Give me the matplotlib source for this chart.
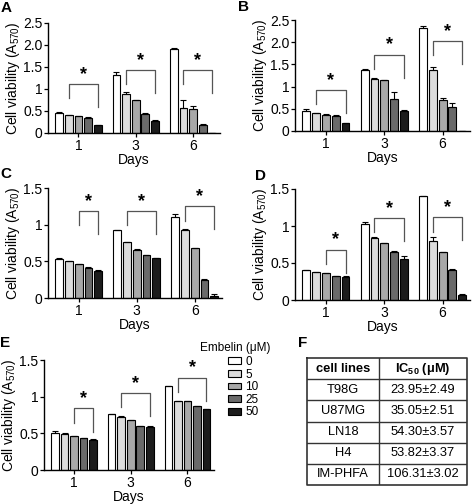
import numpy as np
import matplotlib.pyplot as plt
from matplotlib.patches import Patch

plt.rcParams['font.family'] = ['Liberation Sans', 'DejaVu Sans']
plt.rcParams['mathtext.fontset'] = 'custom'
plt.rcParams['mathtext.rm'] = 'Liberation Sans'
plt.rcParams['mathtext.bf'] = 'Liberation Sans:bold'
plt.rcParams['mathtext.default'] = 'regular'

days = ["1", "3", "6"]
doses = ["0", "5", "10", "25", "50"]
bar_colors = ["#ffffff", "#dcdcdc", "#a8a8a8", "#6a6a6a", "#1c1c1c"]

# rows = day 1, 3, 6 ; cols = embelin dose
a_vals = [[0.46, 0.41, 0.38, 0.35, 0.18],
          [1.31, 0.89, 0.74, 0.44, 0.28],
          [1.91, 0.56, 0.54, 0.18, 0.01]]
a_err = [[0.01, 0.01, 0.01, 0.01, 0.01],
         [0.08, 0.04, 0.02, 0.01, 0.01],
         [0.03, 0.18, 0.08, 0.02, 0.0]]

b_vals = [[0.45, 0.40, 0.37, 0.34, 0.18],
          [1.37, 1.17, 1.14, 0.72, 0.45],
          [2.32, 1.38, 0.69, 0.54, 0.01]]
b_err = [[0.04, 0.01, 0.01, 0.01, 0.01],
         [0.02, 0.02, 0.01, 0.15, 0.02],
         [0.05, 0.06, 0.05, 0.08, 0.0]]

c_vals = [[0.53, 0.50, 0.46, 0.41, 0.37],
          [0.93, 0.76, 0.66, 0.58, 0.54],
          [1.11, 0.93, 0.68, 0.24, 0.03]]
c_err = [[0.01, 0.01, 0.01, 0.01, 0.01],
         [0.0, 0.01, 0.01, 0.0, 0.01],
         [0.03, 0.01, 0.0, 0.02, 0.02]]

d_vals = [[0.40, 0.38, 0.36, 0.33, 0.31],
          [1.03, 0.84, 0.77, 0.65, 0.56],
          [1.40, 0.80, 0.65, 0.40, 0.07]]
d_err = [[0.0, 0.0, 0.01, 0.0, 0.01],
         [0.03, 0.01, 0.0, 0.01, 0.03],
         [0.0, 0.05, 0.0, 0.02, 0.01]]

e_vals = [[0.51, 0.49, 0.47, 0.43, 0.41],
          [0.77, 0.72, 0.68, 0.60, 0.59],
          [1.14, 0.94, 0.94, 0.87, 0.83]]
e_err = [[0.02, 0.01, 0.0, 0.01, 0.01],
         [0.0, 0.01, 0.0, 0.0, 0.01],
         [0.01, 0.0, 0.0, 0.0, 0.0]]

# significance brackets: (height, first bar index) per day
a_brackets = [(1.12, 1), (1.43, 1), (1.43, 1)]
b_brackets = [(0.93, 1), (1.72, 1), (2.03, 1)]
c_brackets = [(1.19, 2), (1.19, 1), (1.25, 1)]
d_brackets = [(0.68, 2), (1.11, 1), (1.12, 1)]
e_brackets = [(0.84, 2), (1.05, 1), (1.26, 1)]

cell_lines = ["T98G", "U87MG", "LN18", "H4", "IM-PHFA"]
ic50 = ["23.95", "35.05", "54.30", "53.82", "106.31"]
ic50_sd = ["2.49", "2.51", "3.57", "3.37", "3.02"]

W, H = 474, 504
fig = plt.figure(figsize=(W / 100, H / 100), dpi=100)


def px_axes(x0, x1, ytop, ybot):
    return fig.add_axes([x0 / W, 1 - ybot / H, (x1 - x0) / W, (ybot - ytop) / H])


def px_text(x, y, s, **kw):
    fig.text(x / W, 1 - y / H, s, **kw)


def bar_panel(ax, vals, errs, brackets, ymax):
    vals = np.array(vals)
    errs = np.array(errs)
    step, width = 0.168, 0.135
    offs = (np.arange(5) - 2) * step
    for j in range(5):
        x = np.arange(3) + offs[j]
        ax.bar(x, vals[:, j], width, color=bar_colors[j], edgecolor='black',
               linewidth=0.8, zorder=2)
        ax.errorbar(x, vals[:, j], yerr=[np.zeros(3), errs[:, j]], fmt='none',
                    ecolor='black', elinewidth=0.8, capsize=2.2, capthick=0.8,
                    zorder=3)
    for i, (h, first) in enumerate(brackets):
        xl = i + offs[first]
        xr = i + offs[4]
        ax.plot([xl, xl, xr, xr], [h - 0.13 * ymax, h, h, h - 0.21 * ymax],
                color='#555555', lw=0.9, zorder=1)
        ax.text((xl + xr) / 2, h + 0.01 * ymax, "*", ha='center', va='bottom',
                fontsize=13, fontweight='bold')
    ax.set_xlim(-0.53, 2.47)
    ax.set_ylim(0, ymax)
    if ymax > 2:
        ticks = [0, 0.5, 1, 1.5, 2.0, 2.5]
        labels = ["0", "0.5", "1", "1.5", "2.0", "2.5"]
    else:
        ticks = [0, 0.5, 1, 1.5]
        labels = ["0", "0.5", "1", "1.5"]
    ax.set_yticks(ticks)
    ax.set_yticklabels(labels)
    ax.set_xticks(range(3))
    ax.set_xticklabels(days)
    ax.tick_params(labelsize=10, length=3, width=0.9, pad=1)
    for s in ['top', 'right']:
        ax.spines[s].set_visible(False)
    for s in ['left', 'bottom']:
        ax.spines[s].set_linewidth(1.0)
    ax.set_xlabel("Days", fontsize=10, labelpad=0)
    ax.set_ylabel("Cell viability (A$_{570}$)", fontsize=10, labelpad=1)


ax_a = px_axes(48, 220, 23, 133)
bar_panel(ax_a, a_vals, a_err, a_brackets, 2.5)
ax_b = px_axes(295, 470, 20, 131)
bar_panel(ax_b, b_vals, b_err, b_brackets, 2.5)
ax_c = px_axes(48, 222, 188, 298)
bar_panel(ax_c, c_vals, c_err, c_brackets, 1.5)
ax_d = px_axes(295, 470, 189, 300)
bar_panel(ax_d, d_vals, d_err, d_brackets, 1.5)
ax_e = px_axes(44, 214, 360, 470)
bar_panel(ax_e, e_vals, e_err, e_brackets, 1.5)

letter_kw = dict(fontsize=11, fontweight='bold', va='top', ha='left')
px_text(1, 1, "A", **letter_kw)
px_text(238, 0, "B", **letter_kw)
px_text(0, 167, "C", **letter_kw)
px_text(255, 169, "D", **letter_kw)
px_text(0, 336, "E", **letter_kw)
px_text(298, 336, "F", **letter_kw)

# legend
px_text(200, 348, "Embelin (μM)", fontsize=8.5, va='center')
handles = [Patch(facecolor=c, edgecolor='black', linewidth=0.8) for c in bar_colors]
fig.legend(handles, doses, loc='upper left', bbox_to_anchor=(228 / W, 1 - 356 / H),
           frameon=False, fontsize=8.5, handlelength=1.1, handleheight=0.5,
           labelspacing=0.05, handletextpad=0.35, borderpad=0, borderaxespad=0)

# table F
ax_f = px_axes(307, 467, 358, 485)
ax_f.set_xlim(0, 1)
ax_f.set_ylim(6, 0)
ax_f.axis('off')
split = 0.45
ax_f.plot([0, 1, 1, 0, 0], [0, 0, 6, 6, 0], color='#333333', lw=1.2, clip_on=False)
ax_f.plot([split, split], [0, 6], color='#333333', lw=1.0)
for r in range(1, 6):
    ax_f.plot([0, 1], [r, r], color='#333333', lw=1.0)
ax_f.text(split / 2, 0.5, "cell lines", ha='center', va='center', fontsize=9.3,
          fontweight='bold')
ax_f.text((1 + split) / 2, 0.5, r"$\mathbf{IC_{50}}$ (μM)", ha='center', va='center',
          fontsize=9.3, fontweight='bold')
for r, (name, m, sd) in enumerate(zip(cell_lines, ic50, ic50_sd)):
    ax_f.text(split / 2, r + 1.5, name, ha='center', va='center', fontsize=9.3)
    ax_f.text((1 + split) / 2, r + 1.5, m + "±" + sd, ha='center', va='center',
              fontsize=9.3)

fig.savefig("out.png", dpi=100)
